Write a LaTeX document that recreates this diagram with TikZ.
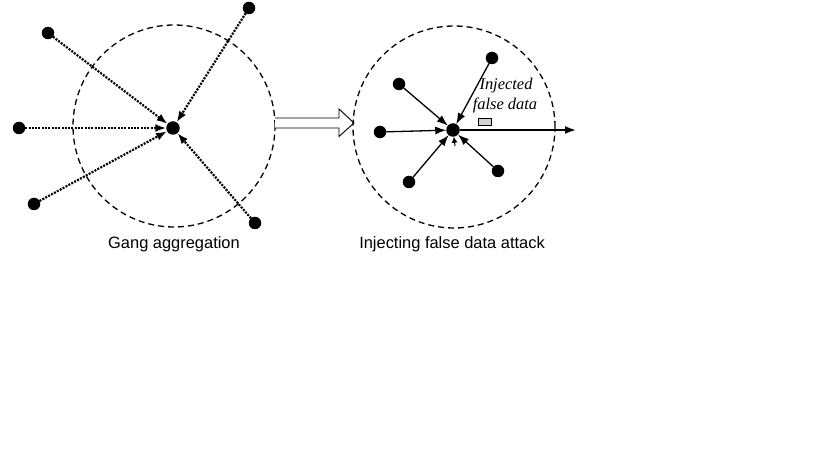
\documentclass[tikz,border=0pt]{standalone}
\usepackage{fontspec}
\setmainfont{Liberation Serif}
\setsansfont{Liberation Sans}
\usetikzlibrary{arrows.meta}
\begin{document}
\begin{tikzpicture}[x=1bp,y=-1bp,
  dot/.style={circle,fill=black,inner sep=0pt,outer sep=0pt,minimum size=12.5bp},
  cdot/.style={circle,fill=black,inner sep=0pt,outer sep=0pt,minimum size=13.5bp},
  region/.style={draw,dash pattern=on 6bp off 4bp,line width=1.3bp},
  dotarrow/.style={line width=2.2bp,dash pattern=on 2bp off 1.3bp,-{Latex[length=11bp,width=8bp]}},
  solarrow/.style={line width=1.3bp,-{Latex[length=11bp,width=8bp]}},
  caption/.style={font=\sffamily\fontsize{16.5}{20}\selectfont,anchor=base,inner sep=0pt},
  note/.style={font=\itshape\fontsize{16.5}{20}\selectfont,anchor=base,inner sep=0pt}]
\useasboundingbox (0,0) rectangle (819,460);
% left region
\node[region,circle,minimum size=202bp,inner sep=0pt] (lcirc) at (174,126) {};
\node[cdot] (lc) at (173,128) {};
\node[dot] (l1) at (48,33) {};
\node[dot] (l2) at (19,128) {};
\node[dot] (l3) at (34,204) {};
\node[dot] (l4) at (249,8) {};
\node[dot] (l5) at (255,223) {};
\foreach \n in {l1,l2,l3,l4,l5} \draw[dotarrow] (\n) -- (lc);
\node[caption] (lcap) at (174,249) {Gang aggregation};
% block arrow
\draw[line width=0.9bp,fill=white] (275,118) -- (339,118) -- (339,109) -- (354,123) -- (339,136.5) -- (339,128) -- (275,128);
% right region
\node[region,circle,minimum size=202bp,inner sep=0pt] (rcirc) at (454,127) {};
\node[cdot] (rc) at (453,130) {};
\node[dot] (r1) at (399,84) {};
\node[dot] (r2) at (380,132) {};
\node[dot] (r3) at (409,182) {};
\node[dot] (r4) at (492,58) {};
\node[dot] (r5) at (498,171) {};
\foreach \n in {r1,r2,r3,r4,r5} \draw[solarrow] (\n) -- (rc);
\coordinate (rout) at (576,130);
\draw[line width=1.8bp,-{Latex[length=11bp,width=8bp]}] (rc) -- (rout);
\coordinate (tk) at (455,146);
\draw[line width=1bp,-{Latex[length=6bp,width=6bp]}] (tk) -- (rc);
\node[draw,fill=black!18,line width=1bp,minimum width=13bp,minimum height=6.5bp,inner sep=0pt] (pkt) at (485,122) {};
\node[note] (n1) at (506,90) {Injected};
\node[note] (n2) at (505,110) {false data};
\node[caption] (rcap) at (452,249) {Injecting false data attack};
\end{tikzpicture}
\end{document}
